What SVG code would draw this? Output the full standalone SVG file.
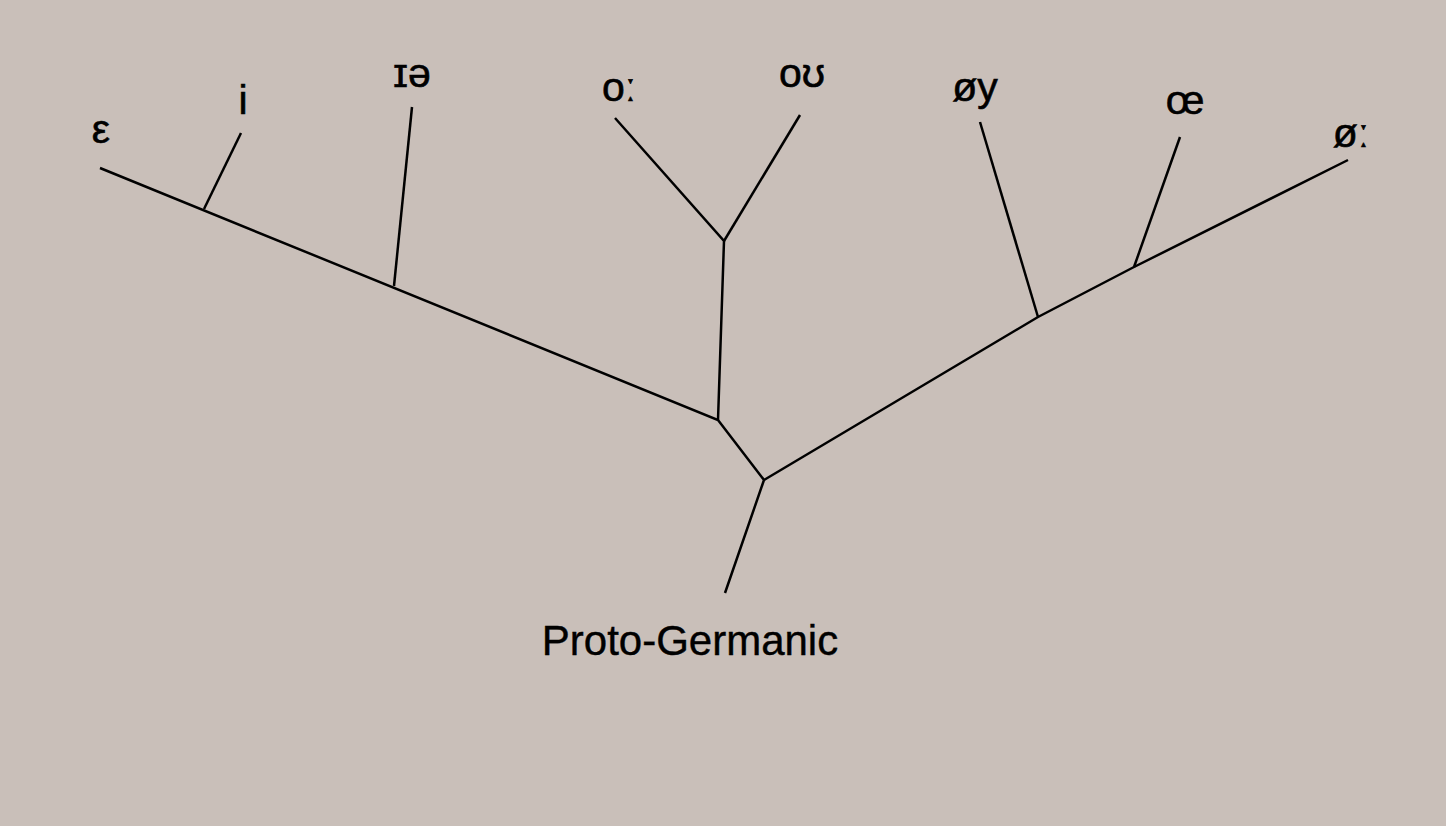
<svg xmlns="http://www.w3.org/2000/svg" width="1446" height="826" viewBox="0 0 1446 826">
<style>
.e{stroke:#000;stroke-width:2.5;fill:none;stroke-linecap:butt;stroke-linejoin:miter}
.l{font-family:"Liberation Sans",Arial,sans-serif;font-size:41px;fill:#000;stroke:#000;stroke-width:0.6;text-anchor:middle}
.r{font-family:"Liberation Sans",Arial,sans-serif;font-size:42px;fill:#000;stroke:#000;stroke-width:0.4;text-anchor:middle}
</style>
<rect width="1446" height="826" fill="#c9bfb9"/>
<g id="connectors">
<polyline class="e" points="725,593 764,480 718,420 100,168"/>
<line class="e" x1="204" y1="209" x2="241" y2="133"/>
<line class="e" x1="394" y1="286" x2="412" y2="107"/>
<polyline class="e" points="718,420 724,241 615,118"/>
<line class="e" x1="724" y1="241" x2="800" y2="115"/>
<polyline class="e" points="764,480 1038,317 1134,267 1348,160"/>
<line class="e" x1="1038" y1="317" x2="980" y2="122"/>
<line class="e" x1="1134" y1="267" x2="1180" y2="137"/>
</g>
<g id="root"><text class="r" x="690" y="655">Proto-Germanic</text></g>
<g id="n-e"><text class="l" x="101" y="143">ε</text></g>
<g id="n-i"><text class="l" x="243" y="114">i</text></g>
<g id="n-ie"><text class="l" x="412" y="87">ɪə</text></g>
<g id="n-oo"><text class="l" x="619" y="101">oː</text></g>
<g id="n-ou"><text class="l" x="802" y="87">oʊ</text></g>
<g id="n-oy"><text class="l" x="975" y="101">øy</text></g>
<g id="n-oe"><text class="l" x="1185" y="114">œ</text></g>
<g id="n-oo2"><text class="l" x="1351" y="147">øː</text></g>
</svg>
